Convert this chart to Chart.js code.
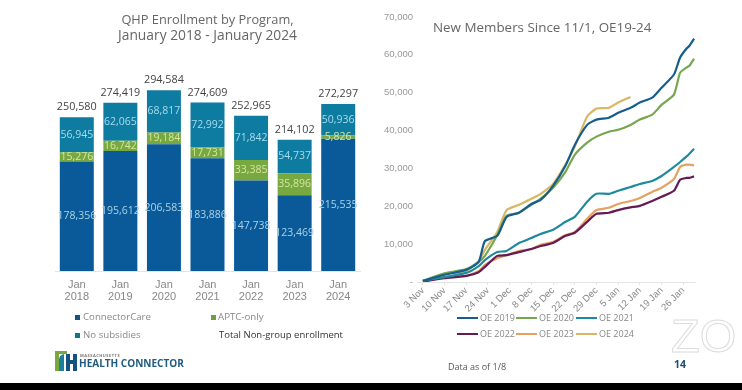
<!DOCTYPE html>
<html>
<head>
<meta charset="utf-8">
<script src="https://cdn.jsdelivr.net/npm/chart.js@4"></script>
<style>
  html, body { margin: 0; background: #fff; }
  body { width: 742px; height: 390px; position: relative; overflow: hidden; font-family: "Open Sans", sans-serif; }
  #page { position: absolute; left: 0; top: 0; width: 742px; height: 390px; overflow: hidden; filter: blur(.4px); }
  canvas { position: absolute; }
  .t { position: absolute; white-space: nowrap; line-height: 1; }
  .title { color: #666; font-size: 13.8px; text-align: center; }
  .lg { color: #888; font-size: 9.7px; }
  .sq { position: absolute; width: 5px; height: 5px; }
  .ln { position: absolute; width: 21px; height: 2px; }
  #black { position: absolute; left: 0; top: 383px; width: 742px; height: 7px; background: #000; }
  #zoom { left: 671px; top: 312px; font-size: 47px; font-family: "Liberation Sans"; color: transparent; -webkit-text-stroke: 1px #dcdcdc; letter-spacing: 0; }
</style>
</head>
<body>
<div id="page">
<canvas id="barChart" width="370" height="310" style="left:0;top:0"></canvas>
<canvas id="lineChart" width="372" height="322" style="left:370px;top:0"></canvas>

<div class="t title" style="left:90px;top:13px;width:235px;font-size:12.8px">QHP Enrollment by Program,</div>
<div class="t title" style="left:90px;top:28px;width:235px">January 2018 - January 2024</div>
<div class="t title" style="left:433px;top:21px;font-size:13.4px">New Members Since 11/1, OE19-24</div>

<div id="legendLeft"></div>
<div id="legendRight"></div>

<svg style="position:absolute;left:55px;top:351px" width="22" height="20">
  <path d="M0 20V0H12V3H4V20Z" fill="#7aa83f"/>
  <path d="M4 20V9Q4 4 9 3V20Z" fill="#1c7f9c"/>
  <path d="M11 20V3H15V9H18V3H22V20H18V13H15V20Z" fill="#14527f"/>
</svg>
<div class="t" style="left:80px;top:354px;font-size:4px;font-weight:700;color:#777;letter-spacing:.5px">MASSACHUSETTS</div>
<div class="t" style="left:79px;top:358px;font-size:10px;font-weight:700;color:#1f5a82;font-family:'Open Sans'">HEALTH CONNECTOR</div>
<div class="t" style="left:448px;top:362px;font-size:9px;color:#555">Data as of 1/8</div>
<div class="t" style="left:674px;top:359px;font-size:10.5px;font-weight:700;color:#1d4e74">14</div>
<div class="t" id="zoom">ZO</div>
<div id="black"></div>
</div>

<script>
// bar chart data
const years = [['Jan', '2018'], ['Jan', '2019'], ['Jan', '2020'], ['Jan', '2021'], ['Jan', '2022'], ['Jan', '2023'], ['Jan', '2024']];
const connectorCare = [178356, 195612, 206583, 183886, 147738, 123469, 215535];
const aptcOnly = [15276, 16742, 19184, 17731, 33385, 35896, 5826];
const noSubsidies = [56945, 62065, 68817, 72992, 71842, 54737, 50936];
const totals = [250580, 274419, 294584, 274609, 252965, 214102, 272297];

// line chart data, days counted from 3 Nov
const days = [0, 7, 14, 18, 20, 24, 27, 31, 35, 38, 42, 46, 49, 53, 56, 60, 63, 67, 70, 74, 77, 81, 83, 85, 86, 87.5];
const oe2019 = [300, 1900, 3200, 5300, 10800, 12200, 17200, 18300, 20600, 21700, 25400, 30700, 36200, 41500, 42900, 43400, 44700, 46000, 47400, 48700, 51300, 54800, 59300, 61600, 62400, 64300];
const oe2020 = [300, 2300, 3400, 5300, 6900, 12400, 17500, 18300, 20400, 22000, 24900, 29100, 33600, 36800, 38400, 39700, 40200, 41500, 42900, 44200, 46800, 49500, 55300, 56600, 57100, 59000];
const oe2021 = [300, 1300, 2400, 4200, 5800, 7900, 8200, 10300, 11600, 12700, 13800, 15900, 17200, 21200, 23300, 23300, 24100, 25100, 25900, 26700, 28000, 30400, 31700, 33100, 33900, 35200];
const oe2022 = [100, 1000, 1600, 2600, 4000, 6900, 7100, 7900, 8700, 9500, 10300, 12200, 13000, 15900, 18000, 18300, 19000, 19700, 20100, 21400, 22500, 24100, 27000, 27500, 27500, 27900];
const oe2023 = [100, 1300, 1600, 2900, 4500, 6300, 7100, 8200, 8700, 9800, 10600, 12400, 13200, 16700, 19000, 19600, 20600, 21400, 22200, 23800, 24900, 27200, 30400, 31000, 31000, 30800];
const oe2024 = [200, 2200, 3000, 5500, 8500, 13200, 19000, 20400, 22000, 23300, 25900, 31000, 35700, 43700, 45800, 46000, 47400, 48900, null, null, null, null, null, null, null, null];
const tickDays = [0, 7, 14, 21, 28, 35, 42, 49, 56, 63, 70, 77, 84];
const tickDates = ['3 Nov', '10 Nov', '17 Nov', '24 Nov', '1 Dec', '8 Dec', '15 Dec', '22 Dec', '29 Dec', '5 Jan', '12 Jan', '19 Jan', '26 Jan'];
const lineNames = ['OE 2019', 'OE 2020', 'OE 2021', 'OE 2022', 'OE 2023', 'OE 2024'];
const lineColors = ['#155d8c', '#76a650', '#1f8a9e', '#651a55', '#e3a262', '#d9b765'];

const fmt = (v) => v.toLocaleString('en-US');

// 막대 안 숫자랑 합계
const barLabels = {
  id: 'barLabels',
  afterDatasetsDraw(chart) {
    const ctx = chart.ctx;
    ctx.save();
    ctx.textAlign = 'center';
    ctx.textBaseline = 'middle';
    chart.data.datasets.forEach((ds, i) => {
      chart.getDatasetMeta(i).data.forEach((el, j) => {
        if (ds.type === 'line') {
          ctx.font = '10.8px "Open Sans"';
          ctx.fillStyle = '#444';
          ctx.fillText(fmt(ds.data[j]), el.x, el.y - 10);
        } else {
          ctx.font = '10.5px "Open Sans"';
          ctx.fillStyle = ds.labelColor;
          ctx.fillText(fmt(ds.data[j]), el.x, (el.y + el.base) / 2);
        }
      });
    });
    ctx.restore();
  },
};

new Chart(document.getElementById('barChart'), {
  type: 'bar',
  data: {
    labels: years,
    datasets: [
      { label: 'ConnectorCare', data: connectorCare, backgroundColor: '#0a5a9a', labelColor: '#a9d3e6', stack: 's' },
      { label: 'APTC-only', data: aptcOnly, backgroundColor: '#78a840', labelColor: '#d5e6a0', stack: 's' },
      { label: 'No subsidies', data: noSubsidies, backgroundColor: '#0e7ba0', labelColor: '#a5dcec', stack: 's' },
      { type: 'line', label: 'Total Non-group enrollment', data: totals, showLine: false, pointRadius: 0, stack: 't' },
    ],
  },
  options: {
    responsive: false, animation: false,
    barPercentage: 0.78, categoryPercentage: 1,
    layout: { padding: { top: 87, left: 55, right: 10, bottom: 0 } },
    plugins: { legend: { display: false }, tooltip: { enabled: false } },
    scales: {
      y: { display: false, stacked: true, min: 0, max: 300000 },
      x: {
        stacked: true,
        afterFit: (s) => { s.height = 39; },
        grid: { display: false },
        border: { color: '#e4e4e4' },
        ticks: { color: '#888', font: { size: 11, lineHeight: 1.1 }, padding: 0, maxRotation: 0 },
      },
    },
  },
  plugins: [barLabels],
});

new Chart(document.getElementById('lineChart'), {
  type: 'line',
  data: {
    datasets: [oe2019, oe2020, oe2021, oe2022, oe2023, oe2024].map((s, i) => ({
      label: lineNames[i],
      data: days.map((d, j) => ({ x: d, y: s[j] })),
      borderColor: lineColors[i],
      borderWidth: 2.2,
      tension: 0.2,
      pointRadius: 0,
    })),
  },
  options: {
    responsive: false, animation: false,
    layout: { padding: { top: 17, right: 47, left: 0, bottom: 0 } },
    plugins: { legend: { display: false }, tooltip: { enabled: false } },
    scales: {
      y: {
        min: 0, max: 70000,
        afterFit: (s) => { s.width = 47; },
        grid: { display: false, drawTicks: false },
        border: { display: false },
        ticks: { stepSize: 10000, color: '#999', font: { size: 9.5 }, padding: 4, callback: (v) => (v === 0 ? '-' : fmt(v)) },
      },
      x: {
        type: 'linear', min: -1.9, max: 87.8,
        afterBuildTicks: (s) => { s.ticks = tickDays.map((v) => ({ value: v })); },
        afterFit: (s) => { s.height = 40; },
        grid: { drawOnChartArea: false, tickLength: 3, color: '#e4e4e4' },
        border: { color: '#e4e4e4' },
        ticks: {
          color: '#888', font: { size: 9.5 }, minRotation: 45, maxRotation: 45, padding: 0, autoSkip: false,
          callback: (v) => tickDates[tickDays.indexOf(v)],
        },
      },
    },
  },
});

// 범례
const addText = (box, text, x, y, color, size) => {
  const d = document.createElement('div');
  d.className = 't lg';
  d.textContent = text;
  d.style.cssText = `left:${x}px;top:${y}px;` + (color ? `color:${color};` : '') + (size ? `font-size:${size}px;` : '');
  box.appendChild(d);
};
const addMark = (box, cls, x, y, color) => {
  const d = document.createElement('div');
  d.className = cls;
  d.style.cssText = `left:${x}px;top:${y}px;background:${color}`;
  box.appendChild(d);
};
const left = document.getElementById('legendLeft');
addMark(left, 'sq', 75, 315, '#14527f');
addText(left, 'ConnectorCare', 83, 312);
addMark(left, 'sq', 211, 315, '#6fa03f');
addText(left, 'APTC-only', 218, 312);
addMark(left, 'sq', 75, 333, '#0e7590');
addText(left, 'No subsidies', 83, 330);
addText(left, 'Total Non-group enrollment', 219, 330, '#333', 9.5);

const right = document.getElementById('legendRight');
lineNames.forEach((name, i) => {
  const x = [457, 516, 576][i % 3];
  const y = i < 3 ? 318 : 334;
  addMark(right, 'ln', x, y - 1, lineColors[i]);
  addText(right, name, x + 23, y - 5, null, 9);
});
</script>
</body>
</html>
